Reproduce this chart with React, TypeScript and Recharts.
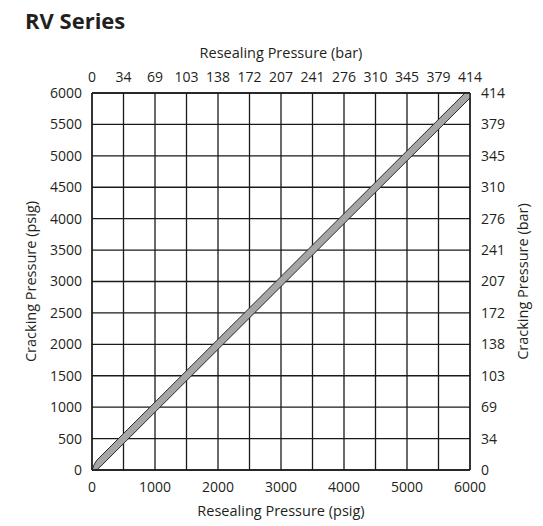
import {ComposedChart, Area, XAxis, YAxis, CartesianGrid, Label} from 'recharts';

// psig ticks along both axes
const psigTicks = [0, 1000, 2000, 3000, 4000, 5000, 6000];
const gridTicks = [0, 500, 1000, 1500, 2000, 2500, 3000, 3500, 4000, 4500, 5000, 5500, 6000];
const barLabels = ['0', '34', '69', '103', '138', '172', '207', '241', '276', '310', '345', '379', '414'];

// band outline: resealing pressure (psig) vs cracking pressure range (psig)
const bandX = [0, 40, 80, 160, 5920, 6000];
const bandLow = [0, 0, 5, 80, 5840, 5920];
const bandHigh = [0, 100, 160, 240, 6000, 6000];

const data = bandX.map((x, i) => ({x, band: [bandLow[i], bandHigh[i]]}));

const textColor = '#231f20';
const tickStyle = {fontSize: 14, fill: textColor, fontFamily: 'Open Sans'};
const labelStyle = {fontSize: 14.5, fill: textColor, fontFamily: 'Open Sans', textAnchor: 'middle' as const};

const barFmt = (v: number) => barLabels[Math.round(v / 500)] ?? '';

const App = () => {
    return (
        <div style={{position: 'relative', width: 535, height: 518, fontFamily: 'Open Sans'}}>
            <div style={{
                position: 'absolute', left: 17, top: -3, fontSize: 22, fontWeight: 700,
                color: textColor, fontFamily: 'Open Sans'
            }}>RV Series</div>
            <ComposedChart width={535} height={518} data={data} margin={{top: 0, right: 0, left: 0, bottom: 0}}>
                <CartesianGrid xAxisId="bar" yAxisId="psig" stroke="#1a1a1a" strokeWidth={1.3}/>
                <XAxis xAxisId="psig" dataKey="x" type="number" domain={[0, 6000]} ticks={psigTicks}
                       orientation="bottom" height={56} tick={tickStyle} tickLine={false} tickSize={0}
                       tickMargin={12} axisLine={{stroke: '#1a1a1a', strokeWidth: 1.3}} interval={0}>
                    <Label value="Resealing Pressure (psig)" position="insideBottom" offset={10} style={labelStyle}/>
                </XAxis>
                <XAxis xAxisId="bar" dataKey="x" type="number" domain={[0, 6000]} ticks={gridTicks}
                       orientation="top" height={85} tick={tickStyle} tickLine={false} tickSize={0}
                       tickMargin={11} tickFormatter={barFmt} axisLine={{stroke: '#1a1a1a', strokeWidth: 1.3}}
                       interval={0}>
                    <Label value="Resealing Pressure (bar)" position="insideTop" offset={40} style={labelStyle}/>
                </XAxis>
                <YAxis yAxisId="psig" type="number" domain={[0, 6000]} ticks={gridTicks} orientation="left"
                       width={84} tick={tickStyle} tickLine={false} tickSize={0} tickMargin={10}
                       axisLine={{stroke: '#1a1a1a', strokeWidth: 1.3}} interval={0}>
                    <Label value="Cracking Pressure (psig)" angle={-90} position="insideLeft" offset={23}
                           style={labelStyle}/>
                </YAxis>
                <YAxis yAxisId="bar" dataKey="x" type="number" domain={[0, 6000]} ticks={gridTicks}
                       orientation="right" width={73} tick={tickStyle} tickLine={false} tickSize={0}
                       tickMargin={11} tickFormatter={barFmt} axisLine={{stroke: '#1a1a1a', strokeWidth: 1.3}}
                       interval={0}>
                    <Label value="Cracking Pressure (bar)" angle={-90} position="insideRight" offset={20}
                           style={labelStyle}/>
                </YAxis>
                <Area xAxisId="psig" yAxisId="psig" dataKey="band" type="linear" fill="#a6a6a6" fillOpacity={1}
                      stroke="#2a2a2a" strokeWidth={1} isAnimationActive={false} dot={false} activeDot={false}/>
            </ComposedChart>
        </div>
    );
};

export default App;
